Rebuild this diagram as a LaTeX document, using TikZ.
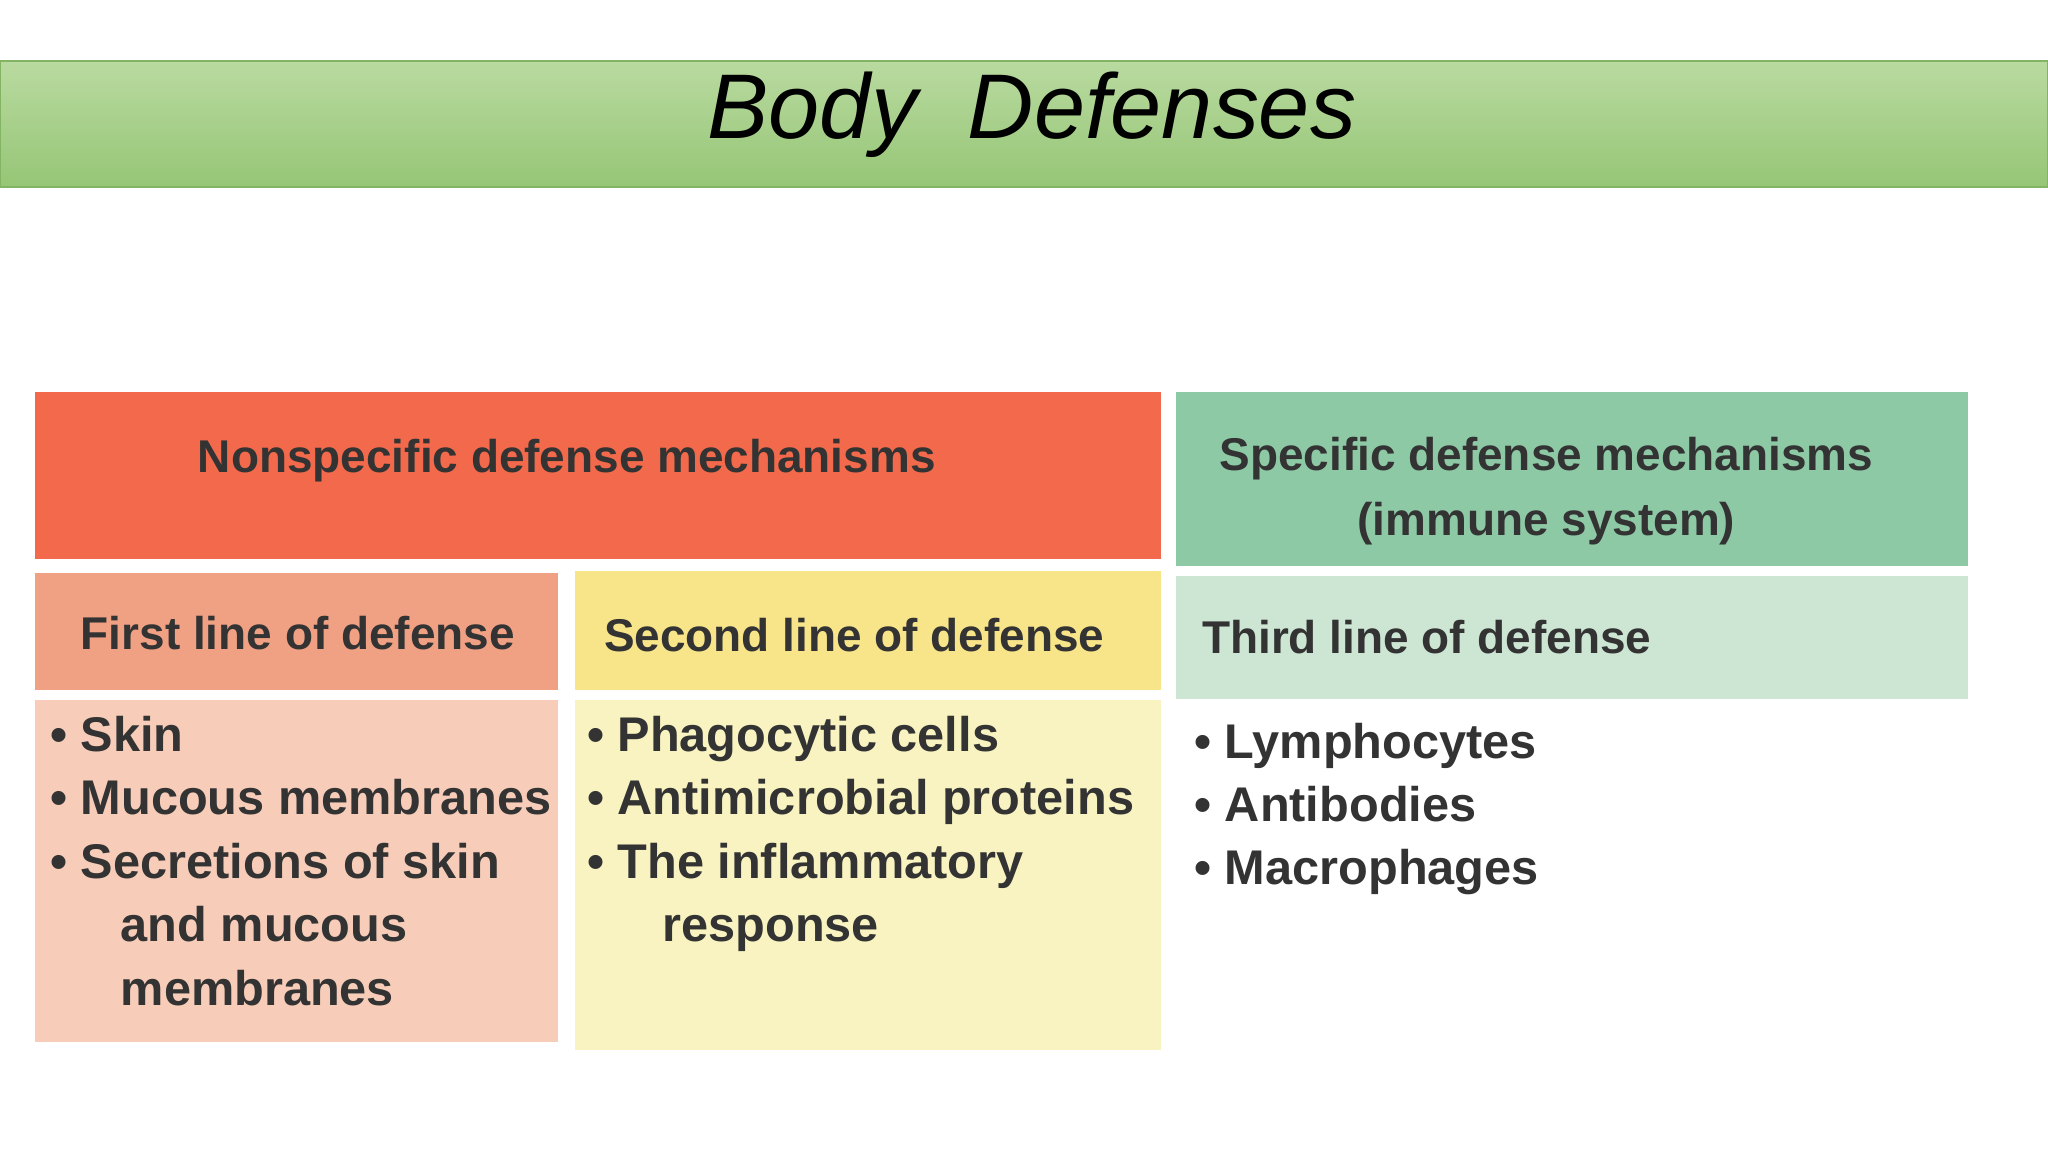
\documentclass[tikz,border=0pt]{standalone}
\usepackage{fontspec}
\setmainfont{Liberation Sans}
\begin{document}
\begin{tikzpicture}[x=0.01cm,y=-0.01cm,
  hdr/.style={font=\fontsize{10}{14}\selectfont\bfseries, text=black!80, align=center},
  body/.style={font=\fontsize{10.6}{13.8}\selectfont\bfseries, text=black!80, align=left, anchor=north west}]
\definecolor{nsc}{HTML}{F26A4B}
\definecolor{spc}{HTML}{8EC9A6}
\definecolor{flc}{HTML}{F0A083}
\definecolor{slc}{HTML}{F8E58A}
\definecolor{tlc}{HTML}{CDE6D3}
\definecolor{fbc}{HTML}{F7CDB9}
\definecolor{sbc}{HTML}{F8F3C0}
\definecolor{gtop}{HTML}{B9DAA0}
\definecolor{gbot}{HTML}{96C676}
\definecolor{gline}{HTML}{82B464}
\useasboundingbox (0,0) rectangle (1568,882);
\fill[white] (0,0) rectangle (1568,882);
\shade[top color=gtop, bottom color=gbot] (0,47) rectangle (1568,143);
\draw[gline] (0,47) rectangle (1568,143);
\node (title) at (790,88) {\fontsize{20}{24}\selectfont\itshape Body\ \ Defenses};
\fill[nsc] (27,300) rectangle (889,428);
\fill[spc] (900,300) rectangle (1507,433);
\fill[flc] (27,439) rectangle (427,528);
\fill[slc] (440,437) rectangle (889,528);
\fill[tlc] (900,441) rectangle (1507,535);
\fill[fbc] (27,536) rectangle (427,798);
\fill[sbc] (440,536) rectangle (889,804);
\node[hdr] (ns) at (434,353) {Nonspecific defense mechanisms};
\node[hdr] (sp) at (1184,376) {Specific defense mechanisms\\(immune system)};
\node[hdr] (fl) at (228,485) {First line of defense};
\node[hdr] (sl) at (654,486) {Second line of defense};
\node[hdr, anchor=west] (tl) at (908,488) {Third line of defense};
\node[body] (fb) at (26,536) {• Skin\\• Mucous membranes\\• Secretions of skin\\\hspace{1.45em}and mucous\\\hspace{1.45em}membranes};
\node[body] (sb) at (437,536) {• Phagocytic cells\\• Antimicrobial proteins\\• The inflammatory\\\hspace{1.55em}response};
\node[body] (tb) at (902,541) {• Lymphocytes\\• Antibodies\\• Macrophages};
\end{tikzpicture}
\end{document}
